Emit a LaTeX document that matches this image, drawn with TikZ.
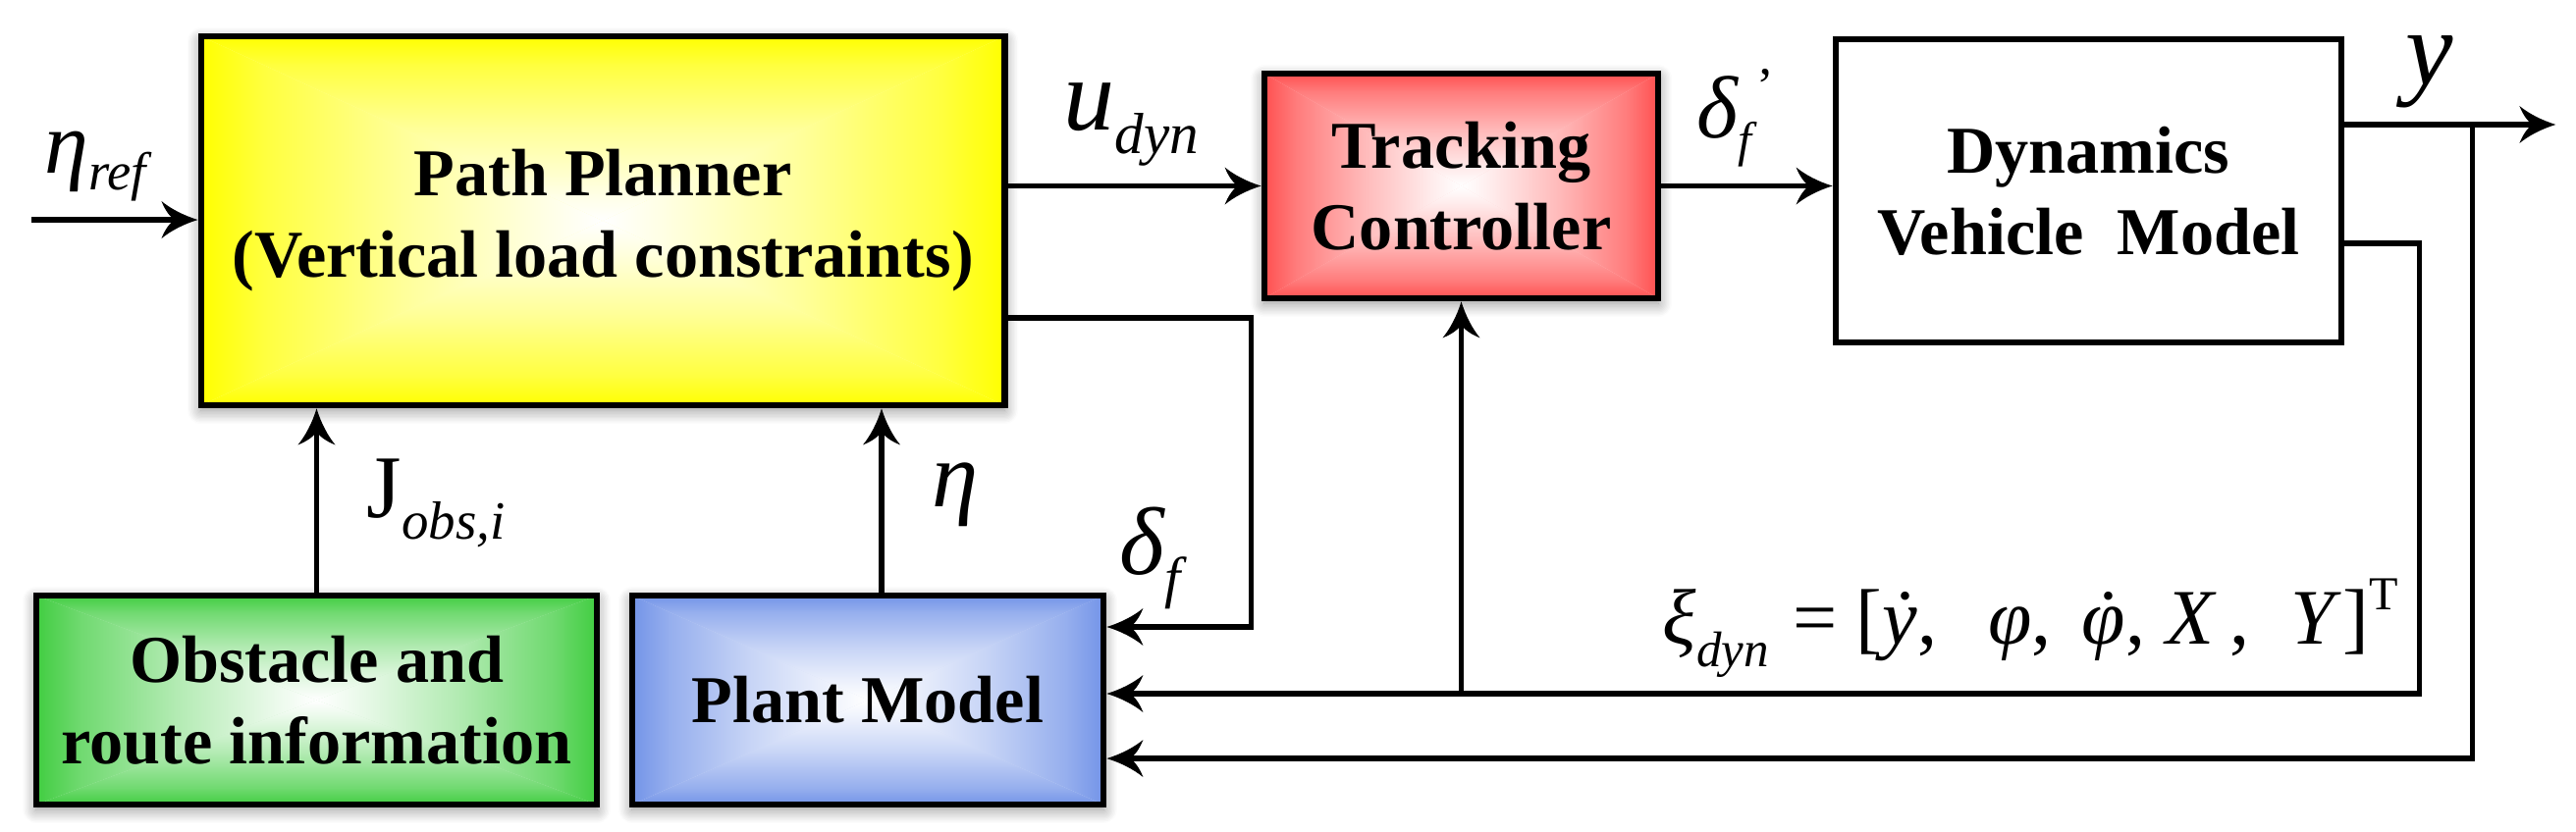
\documentclass[tikz,border=0pt]{standalone}
\usepackage{fontspec}
\setmainfont{Liberation Serif}
\usetikzlibrary{arrows.meta,shadows.blur}
\newlength\pxu \setlength\pxu{0.28453pt}
\newcommand\sbs[3]{\raisebox{-#1}{\fontsize{#2}{#2}\selectfont #3}}
\definecolor{cyel}{RGB}{255,255,0}
\definecolor{cred}{RGB}{255,80,80}
\definecolor{cgrn}{RGB}{65,205,65}
\definecolor{cblu}{RGB}{115,148,232}
\newcommand\declbevel[2]{%
  \pgfdeclarehorizontalshading{bvh#1}{100bp}{color(0bp)=(#2); color(25bp)=(#2); color(33bp)=(#2!75!white); color(50bp)=(#2!40!white); color(68bp)=(#2!10!white); color(75bp)=(white); color(100bp)=(white)}%
  \pgfdeclareverticalshading{bvv#1}{100bp}{color(0bp)=(white); color(25bp)=(white); color(32bp)=(#2!10!white); color(50bp)=(#2!40!white); color(67bp)=(#2!75!white); color(75bp)=(#2); color(100bp)=(#2)}%
}
\declbevel{yel}{cyel}
\declbevel{red}{cred}
\declbevel{grn}{cgrn}
\declbevel{blu}{cblu}
\pgfdeclarearrow{
  name = Barb,
  parameters = {\the\pgfarrowlength,\the\pgfarrowwidth},
  setup code = {
    \pgfarrowssettipend{0pt}
    \pgfarrowssetlineend{-0.5\pgfarrowlength}
    \pgfarrowssetbackend{-\pgfarrowlength}
    \pgfarrowssavethe\pgfarrowlength
    \pgfarrowssavethe\pgfarrowwidth
  },
  drawing code = {
    \pgfpathmoveto{\pgfpointorigin}
    \pgfpathcurveto{\pgfpoint{-0.4\pgfarrowlength}{0.12\pgfarrowwidth}}{\pgfpoint{-0.75\pgfarrowlength}{0.3\pgfarrowwidth}}{\pgfpoint{-\pgfarrowlength}{0.5\pgfarrowwidth}}
    \pgfpathcurveto{\pgfpoint{-0.9\pgfarrowlength}{0.25\pgfarrowwidth}}{\pgfpoint{-0.75\pgfarrowlength}{0.05\pgfarrowwidth}}{\pgfpoint{-0.62\pgfarrowlength}{0pt}}
    \pgfpathcurveto{\pgfpoint{-0.75\pgfarrowlength}{-0.05\pgfarrowwidth}}{\pgfpoint{-0.9\pgfarrowlength}{-0.25\pgfarrowwidth}}{\pgfpoint{-\pgfarrowlength}{-0.5\pgfarrowwidth}}
    \pgfpathcurveto{\pgfpoint{-0.75\pgfarrowlength}{-0.3\pgfarrowwidth}}{\pgfpoint{-0.4\pgfarrowlength}{-0.12\pgfarrowwidth}}{\pgfpointorigin}
    \pgfpathclose
    \pgfusepathqfill
  },
  defaults = {length=10pt, width=10pt}
}
\tikzset{
  box/.style={draw, line width=0.065cm, align=center, inner sep=0pt,
    font=\fontsize{19.4}{23.6}\selectfont\bfseries},
  shad/.style={blur shadow={shadow xshift=0cm, shadow yshift=-0.05cm, shadow blur radius=0.14cm, shadow blur steps=10, shadow opacity=45}},
  bevel/.style={fill=c#1!30!white, path picture={
    \path (path picture bounding box.south west) coordinate (bv1)
          (path picture bounding box.north west) coordinate (bv2)
          (path picture bounding box.north east) coordinate (bv3)
          (path picture bounding box.south east) coordinate (bv4)
          (path picture bounding box.center) coordinate (bv0);
    \shade[shading=bvh#1] (bv1) -- (bv2) -- (bv0) -- cycle;
    \shade[shading=bvh#1, shading angle=180] (bv3) -- (bv4) -- (bv0) -- cycle;
    \shade[shading=bvv#1] (bv2) -- (bv3) -- (bv0) -- cycle;
    \shade[shading=bvv#1, shading angle=180] (bv4) -- (bv1) -- (bv0) -- cycle;
  }},
  line/.style={line width=0.055cm},
  conn/.style={line, -{Barb[length=0.37cm, width=0.38cm]}},
  lbl/.style={anchor=base west, inner sep=0pt, font=\fontsize{27}{27}\selectfont\itshape},
}
\begin{document}
\begin{tikzpicture}[x=0.01cm, y=-0.01cm]
\useasboundingbox (0,0) rectangle (2624,847);
% blocks
\node[box, shad, bevel=yel, minimum width=8.18cm, minimum height=3.76cm] (pp) at (614,225)
  {Path Planner\\(Vertical load constraints)};
\node[box, shad, bevel=red, minimum width=4.01cm, minimum height=2.29cm] (tc) at (1488.5,189.5)
  {Tracking\\Controller};
\node[box, fill=white, minimum width=5.15cm, minimum height=3.09cm] (dvm) at (2127.5,194.5)
  {Dynamics\\Vehicle\ \ Model};
\node[box, shad, bevel=grn, minimum width=5.71cm, minimum height=2.13cm] (obs) at (322.5,713.5)
  {Obstacle and\\route information};
\node[box, shad, bevel=blu, minimum width=4.80cm, minimum height=2.13cm] (pm) at (884,713.5)
  {Plant Model};
% coordinates
\coordinate (in) at (32,224);
\coordinate (ppo) at ([yshift=-0.99cm]pp.east);
\coordinate (dvo) at ([yshift=-0.535cm]dvm.east);
\coordinate (yo) at ([yshift=0.675cm]dvm.east);
\coordinate (pmA) at ([yshift=0.745cm]pm.east);
\coordinate (pmB) at ([yshift=0.065cm]pm.east);
\coordinate (pmC) at ([yshift=-0.595cm]pm.east);
\coordinate (pmN) at ([xshift=0.14cm]pm.north);
% connectors
\draw[conn] (in) -- (in -| pp.west);
\draw[conn] (pp.east |- tc.west) -- (tc.west);
\draw[conn] (tc.east) -- (tc.east -| dvm.west);
\draw[conn] (yo) -- ++(215,0) coordinate (yend);
\draw[conn] (ppo) -- ++(248,0) |- (pmA);
\draw[conn] (dvo) -- ++(76,0) |- (pmB);
\draw[conn] (yo) ++(130,0) |- (pmC);
\draw[conn] (tc.south |- pmB) -- (tc.south);
\draw[conn] (obs.north) -- (obs.north |- pp.south);
\draw[conn] (pmN) -- (pmN |- pp.south);
% labels
\node[lbl, font=\fontsize{25.6}{26}\selectfont\itshape] (lref) at (45,176) {η\sbs{5pt}{15.5}{ref}};
\node[lbl, font=\fontsize{29.6}{30}\selectfont\itshape] (ludyn) at (1083,132) {u\sbs{7pt}{16.8}{dyn}};
\node[lbl, font=\fontsize{25.6}{26}\selectfont\itshape] (ldfp) at (1728,140)
  {δ\sbs{5.4pt}{14.2}{f}\hspace{1.5pt}\raisebox{9.7pt}{\fontsize{15}{15}\selectfont\upshape\char"27}};
\node[lbl, font=\fontsize{31}{31}\selectfont\itshape] (ly) at (2450,86) {y};
\node[lbl, font=\fontsize{25.9}{26}\selectfont] (lj) at (373,527) {J\sbs{6.5pt}{15.6}{\itshape obs,i}};
\node[lbl] (leta) at (949,516) {η};
\node[lbl, font=\fontsize{27.9}{28}\selectfont\itshape] (ldf) at (1140,585) {δ\sbs{6.8pt}{16.5}{f}};
\node[lbl, font=\fontsize{22.8}{23}\selectfont\upshape] (lxi) at (1693,656)
  {{\itshape ξ}\sbs{6.8pt}{14.5}{\itshape dyn}\hspace{25\pxu}=\hspace{19\pxu}[{\itshape\accent"02D9 y},\hspace{52\pxu}{\itshape φ},\hspace{31\pxu}{\itshape\accent"02D9 φ},\hspace{21\pxu}{\itshape X}\hspace{16\pxu},\hspace{42\pxu}{\itshape Y}\hspace{9\pxu}]\raisebox{9.7pt}{\fontsize{13.7}{14}\selectfont T}};
\end{tikzpicture}
\end{document}
